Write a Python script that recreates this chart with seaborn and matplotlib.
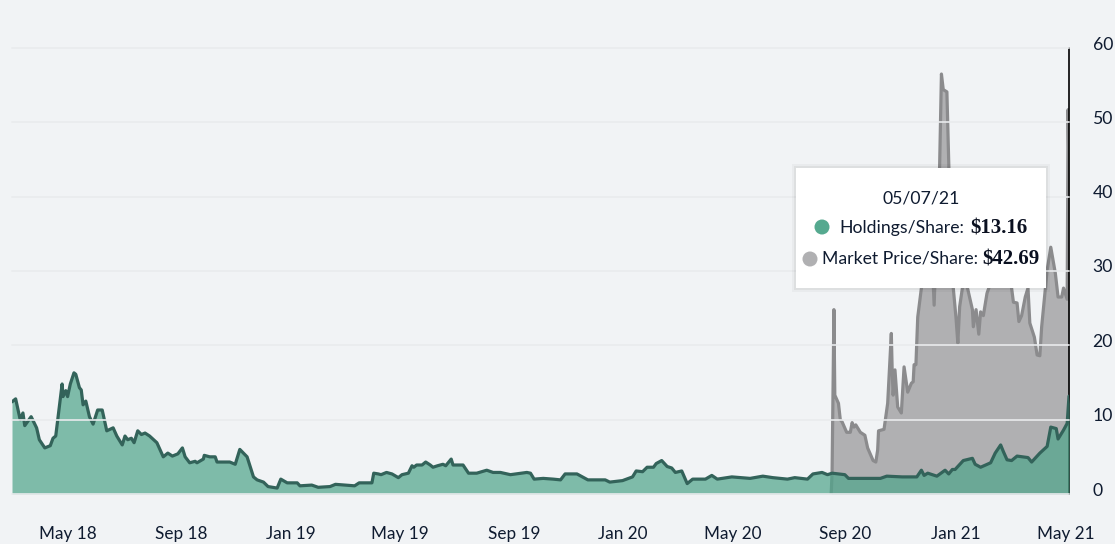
import pandas as pd
import matplotlib.pyplot as plt
import seaborn as sns
from matplotlib.patches import Rectangle, Circle
from matplotlib.transforms import ScaledTranslation

# Values. Days are counted from the first date of the chart.
start_date = '2018-03-04'

holdings_days = [0, 4, 9, 12, 14, 21, 27, 30, 36, 42, 45, 48, 55, 56, 59, 61, 64, 68, 70, 74, 76, 78, 81, 85, 89, 94,
                 99, 104, 111, 115, 121, 124, 127, 131, 134, 138, 142, 146, 151, 159, 166, 171, 176, 182, 187, 190,
                 195, 201, 203, 210, 211, 217, 223, 225, 239, 245, 250, 258, 265, 269, 276, 281, 291, 295, 302, 313,
                 316, 329, 336, 349, 355, 376, 381, 395, 397, 402, 405, 411, 417, 424, 428, 435, 439, 441, 444, 450,
                 454, 459, 462, 467, 473, 476, 482, 484, 495, 501, 510, 521, 528, 536, 547, 565, 569, 573, 583, 594,
                 602, 607, 620, 632, 651, 656, 670, 681, 685, 692, 697, 704, 707, 713, 719, 724, 728, 735, 741, 747,
                 761, 768, 774, 790, 810, 824, 835, 851, 859, 873, 879, 889, 895, 900, 914, 918, 934, 953, 960, 977,
                 993, 998, 1001, 1005, 1015, 1024, 1028, 1032, 1035, 1044, 1054, 1057, 1063, 1074, 1079, 1085, 1088,
                 1092, 1097, 1103, 1115, 1119, 1128, 1136, 1140, 1146, 1148, 1154, 1158, 1160]
holdings_vals = [12.4, 12.8, 10.0, 10.9, 9.2, 10.4, 8.9, 7.3, 6.2, 6.5, 7.5, 7.8, 14.8, 13.1, 13.9, 13.1, 14.8, 16.3,
                 16.1, 14.3, 14.0, 12.0, 12.5, 10.4, 9.4, 11.3,
                 11.3, 8.5, 8.9, 7.8, 6.6, 7.8, 7.3, 7.5, 6.9, 8.5, 8.0, 8.2, 7.8, 6.9, 5.0, 5.5, 5.1, 5.4, 6.2, 5.0,
                 4.2, 4.4, 4.2, 4.7, 5.2, 5.0, 5.0, 4.3, 4.3, 4.0, 6.0, 5.0, 2.3, 1.9, 1.6, 1.0, 0.8, 2.0, 1.5, 1.5,
                 1.1, 1.2, 0.9, 1.0, 1.3, 1.1, 1.5, 1.5, 2.8, 2.7, 2.6, 2.9, 2.7, 2.2, 2.6, 2.8, 3.8, 3.6, 3.9, 3.9,
                 4.3, 3.9, 3.6, 3.8, 4.0, 3.8, 4.7, 3.9, 3.9, 2.8, 2.8, 3.2, 2.9, 2.9, 2.6, 2.9, 2.8, 2.0, 2.1, 2.0,
                 1.9, 2.7, 2.7, 1.9, 1.9, 1.6, 1.8, 2.3, 3.1, 3.0, 3.6, 3.6, 4.1, 4.5, 3.7, 3.5, 2.9, 3.1, 1.4, 2.0,
                 2.0, 2.5, 2.0, 2.3, 2.1, 2.4, 2.2, 2.0, 2.2, 2.0, 2.7, 2.9, 2.6, 2.8, 2.6, 2.1, 2.1, 2.1, 2.4, 2.3,
                 2.3, 3.2, 2.5, 2.8, 2.4, 3.2, 2.7, 3.3, 3.3, 4.5, 4.8, 4.0, 3.6, 4.2, 5.5, 6.6, 5.7,
                 4.6, 4.5, 5.1, 4.9, 4.3, 5.5, 6.4, 9.0, 8.8, 7.4, 8.6, 9.5, 13.16]

market_days = [899, 900, 901, 902, 903, 907, 909, 911, 916, 920, 922, 924, 926, 931, 936, 939, 945, 948, 950, 951, 957,
               961, 965, 966, 967, 969, 972, 976, 979, 983, 987, 989, 990, 992, 994, 998, 1002, 1009, 1012, 1014,
               1018, 1020, 1022, 1026, 1029, 1033, 1036, 1038, 1040, 1043, 1046, 1049, 1054, 1055, 1058, 1061, 1063,
               1066, 1070, 1072, 1079, 1090, 1095, 1097, 1099, 1103, 1105, 1108, 1112, 1115, 1117, 1122, 1125, 1128,
               1130, 1136, 1140, 1145, 1148, 1152, 1154, 1158, 1159, 1160]
market_vals = [0.0, 2.9, 13.6, 24.8, 13.3, 12.2, 10.0, 9.7, 8.3, 8.3, 9.6, 9.0, 9.3, 8.3, 7.9, 6.2, 4.5, 4.3, 5.9, 8.5,
               8.7, 12.2, 21.6, 16.4, 13.3, 16.7, 11.7, 10.9, 17.1, 13.7, 14.9, 15.1, 17.4, 17.4, 23.8, 27.7, 32.0,
               34.0, 25.4, 33.0, 44.0, 56.5, 54.4, 54.1, 40.0, 27.7, 23.7, 20.3, 25.2, 27.7, 29.0, 27.5, 24.8, 22.5,
               24.8, 21.5, 24.5, 24.0, 27.0, 27.7, 31.0, 30.0, 29.0, 27.7, 25.8, 25.7, 23.2, 24.0, 26.5, 27.7, 23.0,
               21.1, 18.7, 18.6, 22.5, 30.1, 33.2, 29.7, 26.5, 26.5, 27.7, 26.2, 51.7, 42.69]

y_ticks = [0, 10, 20, 30, 40, 50, 60]
x_tick_dates = ['2018-05-04', '2018-09-06', '2019-01-04', '2019-05-04', '2019-09-06',
                '2020-01-03', '2020-05-03', '2020-09-03', '2021-01-03', '2021-05-04']
x_tick_labels = ['May 18', 'Sep 18', 'Jan 19', 'May 19', 'Sep 19', 'Jan 20', 'May 20', 'Sep 20', 'Jan 21', 'May 21']

W, H = 1115, 544
BG = '#f1f3f5'
TEXT = '#0f1b30'

sns.set_theme(style='white')
plt.rcParams.update({'font.family': ['Lato', 'DejaVu Sans'], 'font.size': 12.5,
                     'figure.facecolor': BG, 'axes.facecolor': BG})


def to_frame(days, vals):
    dates = pd.Timestamp(start_date) + pd.to_timedelta(days, unit='D')
    return pd.DataFrame({'date': dates, 'value': vals})


holdings = to_frame(holdings_days, holdings_vals)
market = to_frame(market_days, market_vals)

fig = plt.figure(figsize=(W / 100, H / 100), dpi=100)
ax = fig.add_axes([12 / W, 1 - 494 / H, 1057 / W, 446 / H])

# Market price sits under the holdings area
ax.fill_between(market['date'], market['value'], 0, color='#b0b0b2', lw=0, zorder=1)
sns.lineplot(data=market, x='date', y='value', color='#8b8b8d', linewidth=2.3, ax=ax, zorder=1.2)
ax.fill_between(holdings['date'], holdings['value'], 0, color='#4fa58b', alpha=0.71, lw=0, zorder=1.4)
sns.lineplot(data=holdings, x='date', y='value', color='#33635a', linewidth=2.3, ax=ax, zorder=2)

ax.set_xlim(holdings['date'].iloc[0], holdings['date'].iloc[-1])
ax.set_ylim(0, 60)
ax.set_xlabel('')
ax.set_ylabel('')
sns.despine(ax=ax, left=True, bottom=True, right=True, top=True)

# Grid lies over the areas, you can see it through the grey
ax.set_axisbelow(False)
ax.yaxis.grid(True, color='#e9ebed', alpha=0.85, linewidth=1.4, clip_on=False)
ax.xaxis.grid(False)

ax.set_xticks(pd.to_datetime(x_tick_dates))
ax.set_xticklabels(x_tick_labels)
ax.yaxis.tick_right()
ax.set_yticks(y_ticks)
ax.tick_params(axis='x', length=0, pad=23, colors=TEXT, labelsize=12.3)
ax.tick_params(axis='y', length=0, pad=17, colors=TEXT, labelsize=12.7)
for lab in ax.get_yticklabels():
    lab.set_transform(lab.get_transform() + ScaledTranslation(0, 5 / 100, fig.dpi_scale_trans))

# Cursor line at the hovered date
ax.axvline(holdings['date'].iloc[-1], color='black', lw=1.2, zorder=1.3, clip_on=False)


# Tooltip, placed in pixels of the picture
def px(x, y):
    return x / W, 1 - y / H


for grow, a in [(4, 0.03), (2, 0.05)]:
    fig.add_artist(Rectangle(px(796 - grow, 288 + grow), (250 + 2 * grow) / W, (120 + 2 * grow) / H,
                             transform=fig.transFigure, color='black', alpha=a, lw=0, zorder=5))
fig.add_artist(Rectangle(px(796, 288), 250 / W, 120 / H, transform=fig.transFigure, color='white', lw=0, zorder=6))

r_dot = 7.5
for (cx, cy), col in [((822, 227), '#55a98f'), ((810, 259), '#b0b0b2')]:
    fig.add_artist(Circle((cx, H - cy), r_dot, transform=None, color=col, lw=0, zorder=7))

fig.text(*px(921, 198), '05/07/21', ha='center', va='center', color=TEXT, fontsize=12.7, zorder=7)
fig.text(*px(839, 228), 'Holdings/Share:', ha='left', va='center', color=TEXT, fontsize=12.7, zorder=7)
fig.text(*px(822, 259), 'Market Price/Share:', ha='left', va='center', color=TEXT, fontsize=12.7, zorder=7)
fig.text(*px(970, 228), '$13.16', ha='left', va='center', color='#0a1020', fontsize=15, fontweight='bold',
         family='Liberation Serif', zorder=7)
fig.text(*px(982, 259), '$42.69', ha='left', va='center', color='#0a1020', fontsize=15, fontweight='bold',
         family='Liberation Serif', zorder=7)

fig.savefig('out.png', dpi=100, facecolor=BG)
